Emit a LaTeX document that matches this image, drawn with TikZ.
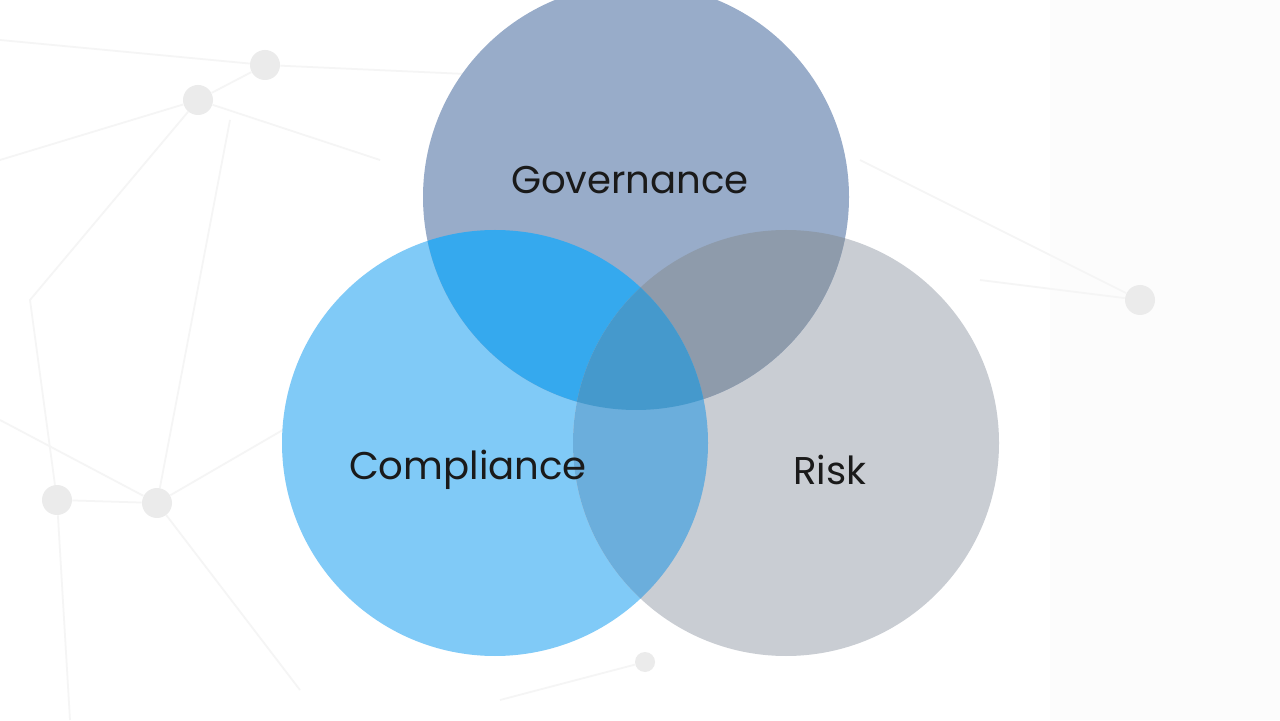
\documentclass[tikz,border=0pt]{standalone}
\usepackage{fontspec}
\setmainfont{Poppins}
\usepackage{xcolor}
\usepackage{tikz}

\definecolor{govfill}{HTML}{98ACC9}
\definecolor{compfill}{HTML}{80CAF7}
\definecolor{riskfill}{HTML}{C9CDD3}
\definecolor{govcomp}{HTML}{35A9EE}
\definecolor{govrisk}{HTML}{8E9BAB}
\definecolor{comprisk}{HTML}{6BAEDC}
\definecolor{allthree}{HTML}{4599CC}
\definecolor{netline}{HTML}{F5F5F5}
\definecolor{netdot}{HTML}{EBEBEB}
\definecolor{labeltext}{HTML}{1A1A1A}

\begin{document}
\begin{tikzpicture}[x=0.02cm, y=0.02cm,
		netdot/.style={circle, fill=netdot, inner sep=0pt, minimum size=0.6cm},
		setlabel/.style={text=labeltext, font=\fontsize{22}{27}\selectfont}]
			\useasboundingbox (0,0) rectangle (1280,720);
			\fill[white] (0,0) rectangle (1280,720);
			\fill[black!1] (1050,0) rectangle (1280,720);

			% faint network behind
			\node[netdot] (n1) at (265,655) {};
			\node[netdot] (n2) at (198,620) {};
			\node[netdot] (n3) at (57,220) {};
			\node[netdot] (n4) at (157,217) {};
			\node[netdot] (n5) at (1140,420) {};
			\node[netdot, minimum size=0.4cm] (n6) at (645,58) {};
			\draw[netline, line width=1pt] (0,680) -- (n1) -- (600,640);
			\draw[netline, line width=1pt] (0,560) -- (n2) -- (n1);
			\draw[netline, line width=1pt] (n2) -- (380,560);
			\draw[netline, line width=1pt] (n2) -- (30,420) -- (n3);
			\draw[netline, line width=1pt] (230,600) -- (n4) -- (n3);
			\draw[netline, line width=1pt] (0,300) -- (n4) -- (300,300);
			\draw[netline, line width=1pt] (n3) -- (70,0);
			\draw[netline, line width=1pt] (n4) -- (300,30);
			\draw[netline, line width=1pt] (860,560) -- (n5);
			\draw[netline, line width=1pt] (980,440) -- (n5);
			\draw[netline, line width=1pt] (n6) -- (500,20);

			\clip (0,0) rectangle (1280,720);

			% the three sets
			\coordinate (gov) at (636,523);
			\coordinate (comp) at (495,277);
			\coordinate (risk) at (786,277);

			\fill[compfill] (comp) circle (213);
			\fill[riskfill] (risk) circle (213);
			\fill[govfill] (gov) circle (213);
			\begin{scope}
				\clip (gov) circle (213);
				\fill[govcomp] (comp) circle (213);
				\fill[govrisk] (risk) circle (213);
			\end{scope}
			\begin{scope}
				\clip (comp) circle (213);
				\fill[comprisk] (risk) circle (213);
				\clip (risk) circle (213);
				\fill[allthree] (gov) circle (213);
			\end{scope}

			\node[setlabel] (govlabel) at (630,540) {Governance};
			\node[setlabel] (complabel) at (468,250) {Compliance};
			\node[setlabel] (risklabel) at (830,250) {Risk};
		\end{tikzpicture}
\end{document}
